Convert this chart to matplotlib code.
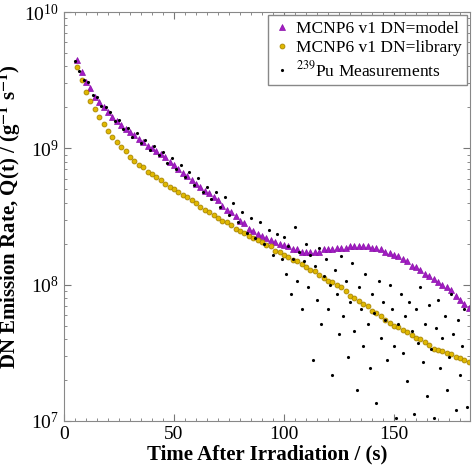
import numpy as np
import matplotlib
matplotlib.use("Agg")
import matplotlib.pyplot as plt
from matplotlib.ticker import LogLocator, MultipleLocator, NullFormatter

plt.rcParams["font.family"] = ["Liberation Serif", "DejaVu Serif"]
plt.rcParams["mathtext.fontset"] = "stix"

# time grid for the two MCNP6 curves (s); values are log10 Q
t_model = np.arange(6, 185, 2)
logq_model = [
    9.65, 9.56, 9.49, 9.44, 9.38, 9.34, 9.30, 9.27, 9.23, 9.20, 9.17, 9.14, 9.12, 9.10, 9.07,
    9.05, 9.02, 9.00, 8.98, 8.96, 8.94, 8.90, 8.88, 8.85, 8.82, 8.80, 8.77, 8.74, 8.72, 8.69,
    8.67, 8.64, 8.62, 8.58, 8.55, 8.53, 8.50, 8.47, 8.45, 8.41, 8.39, 8.37, 8.36, 8.34, 8.33,
    8.31, 8.30, 8.29, 8.28, 8.26, 8.26, 8.24, 8.24, 8.24, 8.24, 8.24, 8.26, 8.26, 8.26, 8.27,
    8.27, 8.27, 8.28, 8.28, 8.28, 8.28, 8.28, 8.27, 8.27, 8.26, 8.24, 8.23, 8.22, 8.21, 8.19,
    8.17, 8.14, 8.13, 8.11, 8.08, 8.06, 8.04, 8.02, 8.00, 7.98, 7.96, 7.92, 7.89, 7.86, 7.83,
]
logq_library = [
    9.60, 9.50, 9.41, 9.35, 9.29, 9.23, 9.18, 9.13, 9.08, 9.05, 9.01, 8.98, 8.94, 8.91, 8.88,
    8.86, 8.83, 8.81, 8.79, 8.77, 8.74, 8.72, 8.70, 8.68, 8.66, 8.64, 8.62, 8.60, 8.57, 8.55,
    8.53, 8.51, 8.49, 8.47, 8.46, 8.44, 8.41, 8.39, 8.38, 8.36, 8.34, 8.33, 8.31, 8.29, 8.28,
    8.25, 8.24, 8.22, 8.20, 8.18, 8.17, 8.15, 8.13, 8.11, 8.10, 8.07, 8.05, 8.03, 8.02, 8.00,
    7.98, 7.95, 7.92, 7.90, 7.88, 7.86, 7.84, 7.81, 7.79, 7.77, 7.74, 7.72, 7.70, 7.69, 7.67,
    7.65, 7.63, 7.61, 7.60, 7.58, 7.56, 7.53, 7.52, 7.51, 7.50, 7.49, 7.47, 7.46, 7.45, 7.43,
]

# 239Pu measurements (log10 Q)
t_meas_early = np.arange(5, 100, 2)
logq_meas_early = [
    9.64, 9.57, 9.50, 9.49, 9.39, 9.38, 9.31, 9.30, 9.27, 9.20, 9.21, 9.14, 9.15, 9.08, 9.11,
    9.04, 9.06, 8.99, 9.02, 8.95, 8.97, 8.89, 8.93, 8.85, 8.88, 8.79, 8.83, 8.73, 8.78, 8.68,
    8.72, 8.63, 8.68, 8.57, 8.64, 8.51, 8.60, 8.46, 8.53, 8.38, 8.49, 8.34, 8.46, 8.30, 8.40,
    8.22, 8.37, 8.19,
]
t_meas_late = np.arange(100, 184, 1)
logq_meas_late = [
    8.35, 8.08, 8.28, 7.93, 8.19, 8.42, 8.03, 8.24, 7.82, 8.17,
    8.30, 7.98, 8.22, 7.45, 8.14, 7.89, 8.27, 7.71, 8.06, 8.19,
    7.82, 8.00, 7.34, 8.11, 7.93, 7.64, 8.21, 7.77, 8.03, 7.47,
    7.87, 8.16, 7.66, 7.23, 7.98, 7.82, 7.55, 8.08, 7.71, 7.39,
    7.93, 7.79, 7.13, 8.03, 7.61, 7.87, 7.74, 7.45, 8.00, 7.82,
    7.55, 7.02, 7.71, 7.93, 7.50, 7.77, 7.29, 7.87, 7.66, 7.05,
    7.82, 7.57, 7.98, 7.43, 7.71, 7.18, 7.85, 7.53, 7.02, 7.68,
    7.89, 7.39, 7.61, 7.77, 7.23, 7.47, 7.93, 7.64, 7.08, 7.74,
    7.34, 7.55, 7.82, 7.10,
]

t_meas = np.concatenate([t_meas_early, t_meas_late])
q_meas = 10 ** np.concatenate([logq_meas_early, logq_meas_late])

fig = plt.figure(figsize=(4.74, 4.67), dpi=100)
ax = fig.add_axes([64 / 474, 46 / 467, 406 / 474, 409 / 467])

ax.plot(t_model, 10 ** np.array(logq_model), "^", color="#A21CC4", mec="#8A10A8",
        ms=4.5, mew=0.5, ls="none", label="MCNP6 v1 DN=model")
ax.plot(t_model, 10 ** np.array(logq_library), "o", color="#E0B800", mec="#A88400",
        ms=3.5, mew=0.6, ls="none", label="MCNP6 v1 DN=library")
ax.plot(t_meas, q_meas, ".", color="black", ms=2.5, ls="none",
        label=r"$^{239}$Pu Measurements")

ax.set_yscale("log")
ax.set_xlim(0, 184.5)
ax.set_ylim(1e7, 1e10)
ax.xaxis.set_major_locator(MultipleLocator(50))
ax.xaxis.set_minor_locator(MultipleLocator(5))
ax.yaxis.set_major_locator(LogLocator(base=10, numticks=10))
ax.yaxis.set_minor_locator(LogLocator(base=10, subs=np.arange(2, 10), numticks=20))
ax.yaxis.set_minor_formatter(NullFormatter())
ax.tick_params(which="both", direction="in", top=True, right=True, labelsize=14,
               color="#777777")
ax.tick_params(which="major", length=5)
ax.tick_params(which="minor", length=2.5)
for s in ax.spines.values():
    s.set_color("#888888")

ax.set_xlabel("Time After Irradiation / (s)", fontsize=15, fontweight="bold", labelpad=1)
ax.set_ylabel(r"DN Emission Rate, Q(t) / (g$^{\mathbf{-1}}$ s$^{\mathbf{-1}}$)",
              fontsize=15, fontweight="bold", labelpad=1)

leg = ax.legend(loc="upper right", fontsize=12.5, handletextpad=0.3, borderpad=0.3,
                labelspacing=0.2, handlelength=1.0, fancybox=False, framealpha=1,
                borderaxespad=0.2)
leg.get_frame().set_edgecolor("#888888")

fig.savefig("out.png", dpi=100)
